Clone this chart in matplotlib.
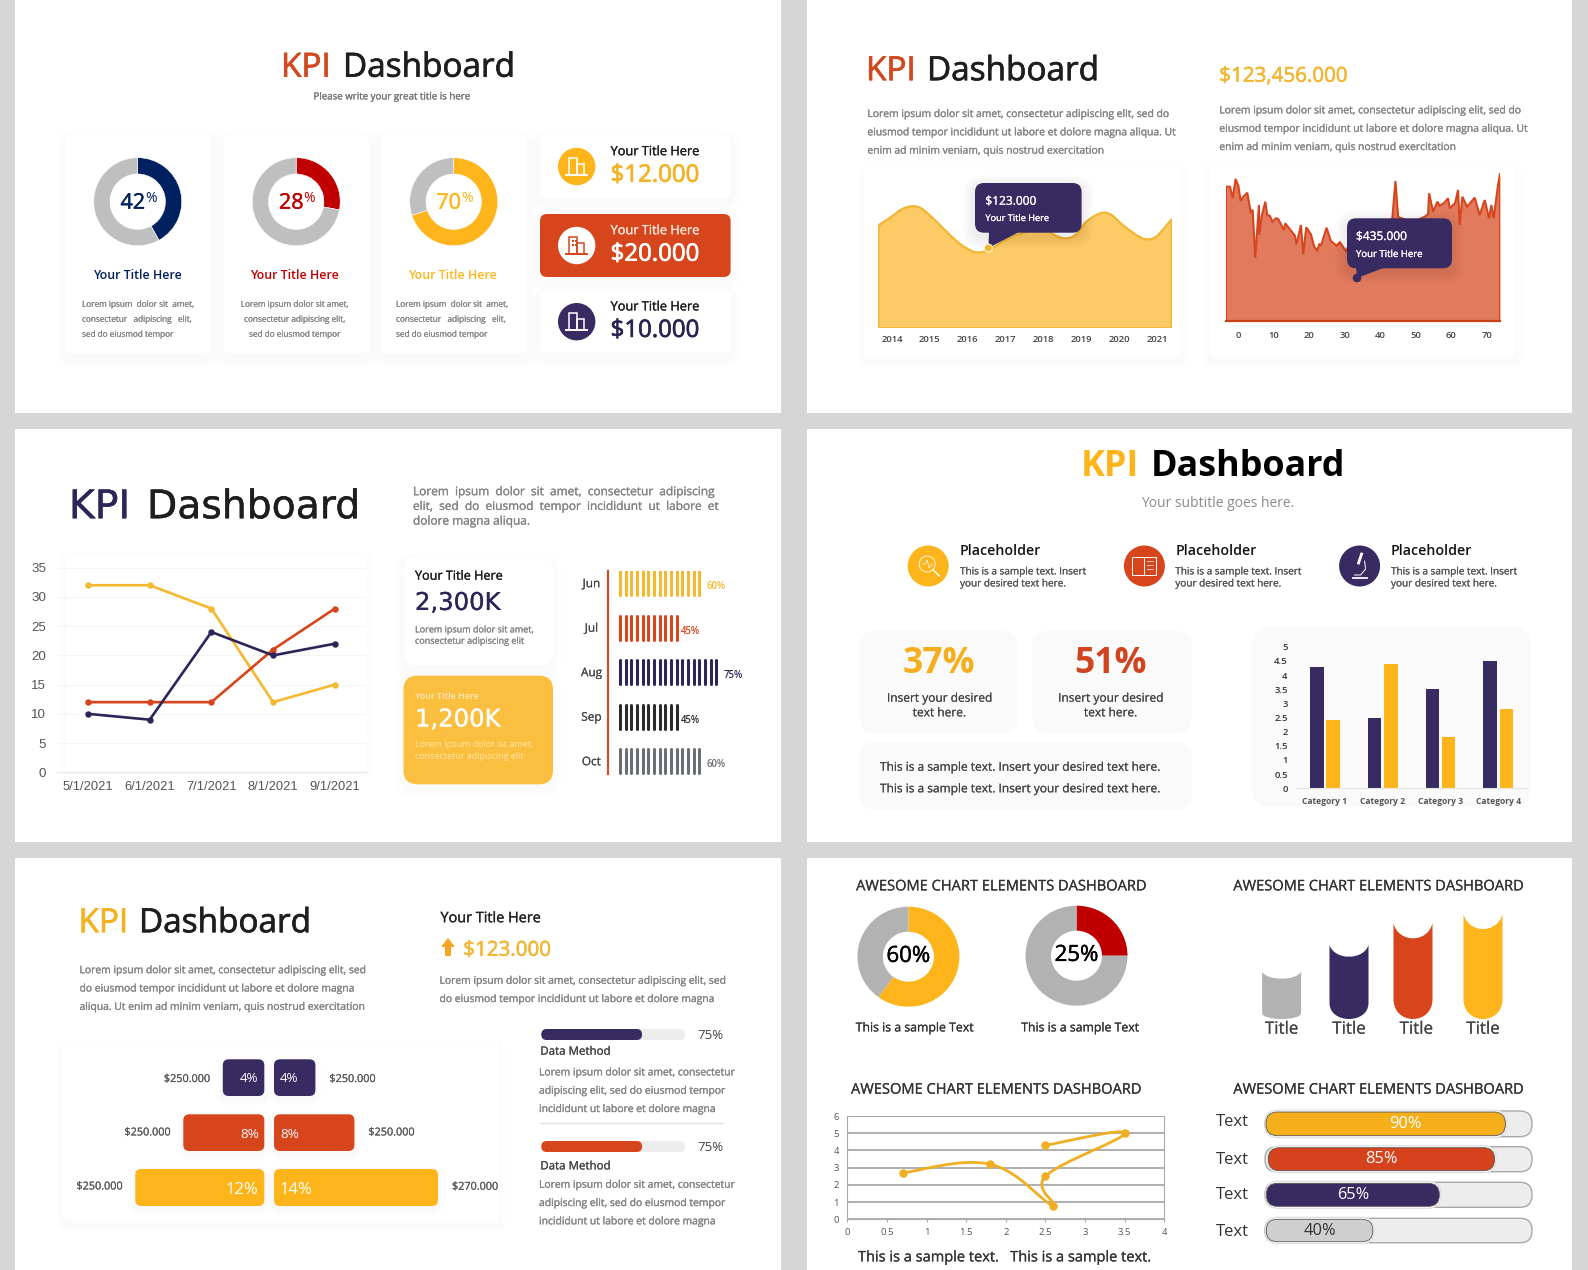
import matplotlib
matplotlib.use("Agg")
import matplotlib.pyplot as plt
import matplotlib.patheffects as pe
from matplotlib.patches import FancyBboxPatch, Circle, Polygon, PathPatch, Rectangle
from matplotlib.path import Path

W, H = 1588, 1270

YELLOW = "#FDB51B"
ORANGE = "#D6451C"
NAVY = "#372B62"
GRAY = "#BFBFBF"
TXT = "#848484"

# ---- data ----
donut_vals = [42, 28, 70]
donut_cols = ["#002060", "#C00000", YELLOW]
kpi_values = ["$12.000", "$20.000", "$10.000"]

area_years = [2013.64, 2013.95, 2014.26, 2014.52, 2014.74, 2015.0, 2015.35, 2015.71, 2015.97, 2016.23,
              2016.54, 2016.94, 2017.33, 2017.99, 2018.30, 2018.56, 2018.83, 2019.14, 2019.50, 2019.76,
              2020.10, 2020.46, 2020.72, 2020.98, 2021.38]
area_vals = [103, 110.6, 119, 122, 120.6, 113, 100, 87, 80, 76, 78, 87, 94, 99, 93, 90, 93, 107, 115, 114,
             103, 93, 89, 92, 109]
area_ticks = [2014, 2015, 2016, 2017, 2018, 2019, 2020, 2021]

spike_x = [-3.55, -2.42, -1.67, -0.83, -0.08, 0.58, 1.33, 2.46, 3.40, 3.97, 4.72, 5.75, 5.85, 6.50, 7.54, 8.10,
           8.85, 9.51, 10.54, 11.20, 12.80, 13.18, 15.90, 16.37, 17.59, 18.25, 19.10, 20.41, 21.35, 22.20,
           22.76, 23.32, 24.83, 26.05, 27.65, 28.59, 30.28, 30.94, 33, 36, 39, 42, 43.44, 44.28, 45.03, 45.5,
           49.2, 52.55, 53.49, 53.77, 54.90, 56.12, 56.78, 57.91, 59.13, 59.60, 61.10, 61.95, 62.42, 63.17,
           64.49, 66.65, 68.06, 69.47, 70.69, 71.35, 72.0, 73.23, 73.79]
spike_y = [134.3, 134.3, 122.7, 142, 135.3, 120, 124.3, 128.3, 109.3, 111, 63.3, 116, 86, 104.3, 119.3, 106,
           105, 99.3, 102.7, 102, 91, 97.7, 85.3, 76.7, 96, 66.7, 93.7, 86.7, 74.3, 70.7,
           76.7, 76, 93.3, 80, 75.3, 78.7, 70, 74.3, 66, 72, 80, 70, 104.3, 140, 104.3, 103.3,
           99, 104.3, 106.7, 127.7, 109.3, 119.3, 115.3, 117.7, 122.7, 112.7, 117.7, 131, 96, 124.3,
           114.3, 123.3, 106, 121, 102.7, 116, 102.7, 136, 146.7]
spike_ticks = [0, 10, 20, 30, 40, 50, 60, 70]

line_dates = ["5/1/2021", "6/1/2021", "7/1/2021", "8/1/2021", "9/1/2021"]
line_yellow = [32, 32, 28, 12, 15]
line_orange = [12, 12, 12, 21, 28]
line_navy = [10, 9, 24, 20, 22]

stripe_months = ["Jun", "Jul", "Aug", "Sep", "Oct"]
stripe_counts = [15, 11, 18, 11, 15]
stripe_pct = ["60%", "45%", "75%", "45%", "60%"]
stripe_cols = ["#F4B92F", "#D6451C", "#2D2557", "#2B2B2B", "#6B6E73"]

cat_names = ["Category 1", "Category 2", "Category 3", "Category 4"]
cat_navy = [4.3, 2.5, 3.5, 4.5]
cat_yellow = [2.4, 4.4, 1.8, 2.8]

funnel_left = [4.15, 8.1, 12.9]
funnel_right = [4.14, 8.04, 16.4]
funnel_left_lab = ["4%", "8%", "12%"]
funnel_right_lab = ["4%", "8%", "14%"]
funnel_left_amt = ["$250.000", "$250.000", "$250.000"]
funnel_right_amt = ["$250.000", "$250.000", "$270.000"]

method_pct = [75, 75]

cyl_vals = [47.3, 74, 95.7, 105]
cyl_cols = ["#B2B2B2", NAVY, ORANGE, YELLOW]

scatter_x = [0.7, 1.8, 2.6, 2.5, 3.5, 2.5]
scatter_y = [2.7, 3.2, 0.8, 2.5, 5, 4.3]

pill_vals = [90, 85, 65, 40]
pill_cols = ["#F4AF1B", "#D6421B", NAVY, "#CFCFCF"]

LOREM1 = "Lorem ipsum dolor sit amet, consectetur adipiscing elit, sed do"
LOREM2 = "eiusmod tempor incididunt ut labore et dolore magna aliqua. Ut"
LOREM3 = "enim ad minim veniam, quis nostrud exercitation"

plt.rcParams["font.family"] = ["Open Sans", "DejaVu Sans"]

fig = plt.figure(figsize=(W / 100, H / 100), dpi=100, facecolor="#D6D6D6")


def px_axes(zorder):
    a = fig.add_axes([0, 0, 1, 1], zorder=zorder)
    a.set_xlim(0, W)
    a.set_ylim(H, 0)
    a.axis("off")
    a.patch.set_alpha(0)
    return a


bg = px_axes(0)
fg = px_axes(10)


def sub_ax(x0, y0, x1, y1):
    a = fig.add_axes([x0 / W, 1 - y1 / H, (x1 - x0) / W, (y1 - y0) / H], zorder=5)
    a.patch.set_alpha(0)
    return a


def T(x, y, s, size, color="#222222", ha="left", weight="normal", ax=None, stroke=0, **kw):
    t = (ax or bg).text(x, y + 1.2, s, fontsize=size, color=color, ha=ha, va="center", fontweight=weight, **kw)
    if stroke:
        t.set_path_effects([pe.withStroke(linewidth=stroke, foreground=color)])
    return t


def rbox(x0, y0, x1, y1, r, color, ax=None, **kw):
    p = FancyBboxPatch((x0 + r, y0 + r), x1 - x0 - 2 * r, y1 - y0 - 2 * r,
                       boxstyle="round,pad=%f,rounding_size=%f" % (r, r),
                       facecolor=color, edgecolor="none", **kw)
    (ax or bg).add_patch(p)
    return p


def card(x0, y0, x1, y1, r=6, color="white", spread=10, dy=5, a=0.004, ax=None):
    for i in range(spread, 0, -2):
        rbox(x0 - i, y0 - i + dy, x1 + i, y1 + i + dy, r + i, "black", ax=ax, alpha=a)
    rbox(x0, y0, x1, y1, r, color, ax=ax)


def smooth(xs, ys, k=6.0):
    # same idea as a smoothed office line: bezier through the points
    verts = [(xs[0], ys[0])]
    codes = [Path.MOVETO]
    n = len(xs)
    for i in range(n - 1):
        a, b = max(i - 1, 0), min(i + 2, n - 1)
        verts.append((xs[i] + (xs[i + 1] - xs[a]) / k, ys[i] + (ys[i + 1] - ys[a]) / k))
        verts.append((xs[i + 1] - (xs[b] - xs[i]) / k, ys[i + 1] - (ys[b] - ys[i]) / k))
        verts.append((xs[i + 1], ys[i + 1]))
        codes += [Path.CURVE4] * 3
    return verts, codes


def title(xk, xd, y, kpi_col, size=24, dash_col="#1E1E1E"):
    T(xk, y, "KPI", size, kpi_col, stroke=0.5)
    T(xd, y, "Dashboard", size, dash_col, stroke=0.5)


def building(cx, cy, color, ax=fg, kind=0):
    lw = 1.1
    ax.add_patch(Rectangle((cx - 8, cy - 9), 8, 17, fill=False, ec=color, lw=lw))
    ax.add_patch(Rectangle((cx, cy - 3), 7, 11, fill=False, ec=color, lw=lw))
    ax.plot([cx - 11, cx + 10], [cy + 8, cy + 8], color=color, lw=lw + 0.3)
    if kind == 1:
        for dx in (-5, -2):
            for dy in (-6, -2):
                ax.add_patch(Rectangle((cx + dx, cy + dy), 1.8, 2, color=color, lw=0))


def place_icon(i, cx, cy):
    if i == 0:
        bg.add_patch(Circle((cx - 1, cy - 2), 8, fill=False, ec="white", lw=0.6))
        bg.plot([cx + 5, cx + 11], [cy + 4, cy + 10], color="white", lw=1)
        bg.plot([cx - 6, cx - 3, cx - 1, cx + 1, cx + 4], [cy - 2, cy - 2, cy - 6, cy + 2, cy - 2], color="white", lw=0.5)
    elif i == 1:
        bg.add_patch(Rectangle((cx - 12, cy - 9), 24, 18, fill=False, ec="white", lw=0.7))
        bg.plot([cx, cx], [cy - 9, cy + 9], color="white", lw=0.7)
        for dy in (-5, -1, 3):
            bg.plot([cx + 3, cx + 9], [cy + dy, cy + dy], color="white", lw=0.5)
    else:
        bg.plot([cx - 7, cx + 7], [cy + 12, cy + 12], color="white", lw=1.3)
        bg.plot([cx + 2, cx - 1], [cy - 12, cy - 3], color="white", lw=2)
        bg.plot([cx + 5, cx + 6, cx + 1, cx - 5], [cy - 5, cy + 3, cy + 9, cy + 9], color="white", lw=0.7)


# panels
for x0, x1 in [(15.2, 780.8), (806.7, 1571.7)]:
    for y0, y1 in [(0, 412.7), (429, 841.7), (858.3, 1270)]:
        bg.add_patch(Rectangle((x0, y0), x1 - x0, y1 - y0, color="white", lw=0))

# ---- panel 1 ----
title(281, 343, 67, "#D0491F")
T(392.4, 95.7, "Please write your great title is here", 7, "#777777", ha="center", stroke=0.2)
card_x = [(66, 210), (224, 369), (381, 527)]
donut_cx = [137.7, 296.2, 453.7]
title_cx = [137.7, 294.7, 452]
for i in range(3):
    card(card_x[i][0], 135, card_x[i][1], 353, r=5)
    a = sub_ax(donut_cx[i] - 44, 201.7 - 44, donut_cx[i] + 44, 201.7 + 44)
    a.pie([donut_vals[i], 100 - donut_vals[i]], colors=[donut_cols[i], GRAY], startangle=90, counterclock=False,
          radius=1, wedgeprops=dict(width=0.37, edgecolor="white", linewidth=0.4))
    a.set_xlim(-1, 1)
    a.set_ylim(-1, 1)
    T(donut_cx[i] - 5, 202, str(donut_vals[i]), 15.5, donut_cols[i], ha="center", ax=fg, stroke=0.3)
    T(donut_cx[i] + 7.5, 197.5, "%", 10, donut_cols[i], ha="left", ax=fg)
    T(title_cx[i], 274, "Your Title Here", 8.9, donut_cols[i], ha="center", weight="semibold")
T(82, 304, "Lorem ipsum  dolor sit  amet,", 5.9, TXT, stroke=0.15)
T(82, 319, "consectetur   adipiscing   elit,", 5.9, TXT, stroke=0.15)
T(82, 334, "sed do eiusmod tempor", 5.9, TXT, stroke=0.15)
T(294.7, 304, "Lorem ipsum dolor sit amet,", 5.9, TXT, ha="center", stroke=0.15)
T(294.7, 319, "consectetur adipiscing elit,", 5.9, TXT, ha="center", stroke=0.15)
T(294.7, 334, "sed do eiusmod tempor", 5.9, TXT, ha="center", stroke=0.15)
T(396, 304, "Lorem ipsum  dolor sit  amet,", 5.9, TXT, stroke=0.15)
T(396, 319, "consectetur   adipiscing   elit,", 5.9, TXT, stroke=0.15)
T(396, 334, "sed do eiusmod tempor", 5.9, TXT, stroke=0.15)

kpi_y = [(135, 198), (214, 277), (290.7, 352.7)]
kpi_card = ["white", ORANGE, "white"]
kpi_circ = [YELLOW, "white", NAVY]
kpi_ic = ["white", ORANGE, "white"]
kpi_col = ["#F4B223", "white", "#2A2352"]
kpi_t = ["#1E1E1E", "#FBE3D6", "#1E1E1E"]
for i in range(3):
    y0, y1 = kpi_y[i]
    card(540, y0, 730.6, y1, r=7, color=kpi_card[i])
    cy = (y0 + y1) / 2
    bg.add_patch(Circle((576.7, cy), 18.7, color=kpi_circ[i], lw=0))
    building(576.7, cy, kpi_ic[i], ax=bg, kind=i % 2)
    T(610.6, cy - 16, "Your Title Here", 9.2, kpi_t[i], stroke=0.2)
    T(610.6, cy + 8, kpi_values[i], 17.3, kpi_col[i], stroke=0.5)

# ---- panel 2 ----
title(866, 927, 70.5, "#D0491F")
T(1219.3, 75, "$123,456.000", 14.8, "#F2B632", stroke=0.4)
for j, s in enumerate([LOREM1, LOREM2, LOREM3]):
    T(867.4, 113.3 + 18.3 * j, s, 7.45, TXT, stroke=0.2)
    T(1219.3, 109.7 + 18.3 * j, s, 7.45, TXT, stroke=0.2)
card(864, 167, 1181, 357, r=5, spread=8)
card(1209, 165, 1515.5, 357, r=5, spread=8)

a = sub_ax(878.3, 170, 1171.7, 328.3)
verts, codes = smooth(area_years, area_vals)
outline = verts + [(area_years[-1], 0), (area_years[0], 0), (area_years[0], area_vals[0])]
a.add_patch(PathPatch(Path(outline, codes + [Path.LINETO] * 3), facecolor="#FDCB66", edgecolor="#F2B632", lw=1.6))
a.set_xlim(area_years[0], area_years[-1])
a.set_ylim(0, 158.3)
a.set_xticks(area_ticks)
a.set_xticklabels(area_ticks, fontsize=6.8, color="#444444", fontweight="semibold")
a.set_yticks([])
a.tick_params(axis="x", length=0, pad=5)
for s in a.spines.values():
    s.set_visible(False)

a = sub_ax(1226, 165, 1500, 321)
a.fill_between(spike_x, spike_y, 0, color="#E27B5E", lw=0)
a.plot(spike_x, spike_y, color="#D6451C", lw=1.5, solid_joinstyle="miter")
a.plot([spike_x[0], spike_x[0]], [0, spike_y[0]], color="#D6451C", lw=1.5)
a.plot([spike_x[-1], spike_x[-1]], [0, spike_y[-1]], color="#D6451C", lw=1.5)
a.plot([spike_x[0], spike_x[-1]], [0, 0], color="#C8401A", lw=1.6, clip_on=False)
a.set_xlim(spike_x[0], spike_x[-1])
a.set_ylim(0, 156)
a.set_xticks(spike_ticks)
a.set_xticklabels(spike_ticks, fontsize=6.8, color="#444444", fontweight="semibold")
a.set_yticks([])
a.tick_params(axis="x", length=0, pad=7)
for s in a.spines.values():
    s.set_visible(False)

card(975, 183, 1081.6, 232.7, r=9, color=NAVY, spread=12, dy=4, a=0.012, ax=fg)
fg.add_patch(Polygon([(989, 232), (988.4, 248), (1019, 232)], color=NAVY, lw=0))
fg.add_patch(Circle((988.4, 248), 4, facecolor="#F2B632", edgecolor="#FFF3D0", lw=0.8))
T(985.4, 200, "$123.000", 8.6, "white", ax=fg, stroke=0.15)
T(985.4, 217.3, "Your Title Here", 6.6, "white", ax=fg, stroke=0.15)
card(1347, 218.3, 1452, 268.3, r=9, color=NAVY, spread=12, dy=4, a=0.012, ax=fg)
fg.add_patch(Polygon([(1356, 267), (1357, 278), (1386, 267)], color=NAVY, lw=0))
fg.add_patch(Circle((1357, 278), 4.3, color=NAVY, lw=0))
T(1356, 235.3, "$435.000", 8.6, "white", ax=fg, stroke=0.15)
T(1356, 253.3, "Your Title Here", 6.9, "white", ax=fg, stroke=0.15)

# ---- panel 3 ----
T(69, 506, "KPI", 28.3, "#2D2557", family="DejaVu Sans", stroke=0.3)
T(147, 506, "Dashboard", 28.3, "#1E1E1E", family="DejaVu Sans", stroke=0.3)
for j, s in enumerate(["Lorem  ipsum  dolor  sit  amet,  consectetur  adipiscing",
                       "elit,  sed  do  eiusmod  tempor  incididunt  ut  labore  et",
                       "dolore magna aliqua."]):
    T(413, 490.5 + 14.7 * j, s, 8.55, TXT, stroke=0.2)

card(66, 556, 366, 772, r=2, spread=6, dy=0)
a = sub_ax(57.2, 567.7, 365.6, 772.3)
xs = range(len(line_dates))
for vals, col in [(line_yellow, "#F4B92F"), (line_orange, "#D6451C"), (line_navy, "#2D2557")]:
    a.plot(xs, vals, color=col, lw=1.9, marker="o", ms=3.6, clip_on=False)
a.set_xlim(-0.5, 4.5)
a.set_ylim(0, 35)
a.set_yticks(range(0, 36, 5))
a.set_xticks(list(xs))
a.set_xticklabels(line_dates, fontsize=9.3, color="#555555", family="Liberation Sans")
a.set_yticklabels(range(0, 36, 5), fontsize=9.6, color="#555555", family="Liberation Sans")
a.grid(axis="y", color="#F5F5F5", lw=0.8)
a.tick_params(axis="x", length=0, pad=6)
a.tick_params(axis="y", length=0, pad=8)
for k, s in a.spines.items():
    s.set_visible(k == "bottom")
a.spines["bottom"].set_color("#E8E8E8")

card(403.5, 556.7, 553, 665.7, r=14)
card(403.5, 675.7, 553, 784.3, r=14, color="#FBBF40")
T(415, 575, "Your Title Here", 9.1, "#1E1E1E", stroke=0.2)
T(415, 601.7, "2,300K", 17.5, "#2D2557", family="DejaVu Sans", stroke=0.2)
T(415, 628.7, "Lorem ipsum dolor sit amet,", 6.5, TXT, stroke=0.15)
T(415, 640, "consectetur adipiscing elit", 6.5, TXT, stroke=0.15)
T(415, 695, "Your Title Here", 6.4, "#FDE9BE", weight="semibold")
T(415, 718.3, "1,200K", 17.5, "white", family="DejaVu Sans", stroke=0.2)
T(415, 743.7, "Lorem ipsum dolor sit amet,", 6.5, "#FDE6A6")
T(415, 755, "consectetur adipiscing elit", 6.5, "#FDE6A6")

bg.plot([608, 608], [570.7, 774], color="#C8502B", lw=1.6)
a = sub_ax(617, 570.7, 735, 774.7)
a.axis("off")
a.set_xlim(-0.53, 20.28)
a.set_ylim(4.30, -0.28)
for r, n in enumerate(stripe_counts):
    a.vlines(range(n), r - 0.27, r + 0.27, color=stripe_cols[r], lw=2.2, capstyle="round")
    off = {11: 0.75, 15: 1.2, 18: 1.35}[n]
    a.text(n - 1 + off, r + 0.08, stripe_pct[r], fontsize=6.9, color=stripe_cols[r], va="center", fontweight="semibold")
    T(591.4, 582.5 + 44.5 * r, stripe_months[r], 8.5, "#444444", ha="center", stroke=0.1)

# ---- panel 4 ----
T(1081, 466, "KPI", 25.8, YELLOW, weight="bold")
T(1151, 466, "Dashboard", 25.8, "black", weight="bold")
T(1217.3, 502.3, "Your subtitle goes here.", 10, "#8A8A8A", ha="center")
place_cx = [928.2, 1144.4, 1359.6]
place_col = [YELLOW, ORANGE, NAVY]
place_x = [960, 1175.3, 1391]
for i in range(3):
    bg.add_patch(Circle((place_cx[i], 566), 20.5, color=place_col[i], lw=0))
    place_icon(i, place_cx[i], 566)
    T(place_x[i], 550, "Placeholder", 10.2, "#111111", weight="semibold")
    T(place_x[i], 570.7, "This is a sample text. Insert", 7.2, "#555555", stroke=0.15)
    T(place_x[i], 582.7, "your desired text here.", 7.2, "#555555", stroke=0.15)

for x0, x1 in [(860, 1018), (1032, 1191.5)]:
    rbox(x0, 631, x1, 733.3, 16, "#FAFAFA")
rbox(860, 741.7, 1191.5, 810, 16, "#FAFAFA")
rbox(1252, 626.7, 1530.7, 806.7, 18, "#FAFAFA")
T(939.3, 663, "37%", 25.5, "#F5AF1E", ha="center", weight="bold")
T(1110.5, 663, "51%", 25.5, "#D0451F", ha="center", weight="bold")
for cx in (939.3, 1110.5):
    T(cx, 697, "Insert your desired", 8.6, "#444444", ha="center", stroke=0.1)
    T(cx, 711.6, "text here.", 8.6, "#444444", ha="center", stroke=0.1)
T(880, 766, "This is a sample text. Insert your desired text here.", 8.6, "#444444", stroke=0.1)
T(880, 787.6, "This is a sample text. Insert your desired text here.", 8.6, "#444444", stroke=0.1)

a = sub_ax(1296, 646.7, 1527.2, 788.3)
xs = range(len(cat_names))
a.bar([x - 0.14 for x in xs], cat_navy, width=0.235, color=NAVY)
a.bar([x + 0.14 for x in xs], cat_yellow, width=0.235, color=YELLOW)
a.set_xlim(-0.5, 3.5)
a.set_ylim(0, 5)
a.set_xticks(list(xs))
a.set_xticklabels(cat_names, fontsize=6.1, color="#555555", fontweight="bold")
a.set_yticks([0, 0.5, 1, 1.5, 2, 2.5, 3, 3.5, 4, 4.5, 5])
a.set_yticklabels(["0", "0.5", "1", "1.5", "2", "2.5", "3", "3.5", "4", "4.5", "5"],
                  fontsize=6.8, color="#333333", fontweight="semibold")
a.tick_params(axis="both", length=0, pad=6)
for k, s in a.spines.items():
    s.set_visible(k == "bottom")
a.spines["bottom"].set_color("#E4E4E4")

# ---- panel 5 ----
title(78.5, 139, 922.5, "#F4B223")
for j, s in enumerate(["Lorem ipsum dolor sit amet, consectetur adipiscing elit, sed",
                       "do eiusmod tempor incididunt ut labore et dolore magna",
                       "aliqua. Ut enim ad minim veniam, quis nostrud exercitation"]):
    T(79.5, 969.5 + 18.3 * j, s, 7.45, TXT, stroke=0.2)
T(440.5, 917.5, "Your Title Here", 10.4, "#222222", stroke=0.2)
fg.add_patch(Polygon([(448, 938), (455, 947), (451, 947), (451, 956), (445, 956), (445, 947), (441, 947)],
                     color="#F5A623", lw=0))
T(463.3, 949, "$123.000", 14.8, "#F2B632", stroke=0.4)
T(439.5, 980, "Lorem ipsum dolor sit amet, consectetur adipiscing elit, sed", 7.45, TXT, stroke=0.2)
T(439.5, 998.3, "do eiusmod tempor incididunt ut labore et dolore magna", 7.45, TXT, stroke=0.2)

card(63, 1041.7, 499, 1220, r=4, spread=8)
funnel_y = [(1059.3, 1096), (1114.3, 1151), (1169, 1206)]
funnel_cols = [NAVY, ORANGE, YELLOW]
for i, (y0, y1) in enumerate(funnel_y):
    xl = 264.3 - funnel_left[i] * 10
    xr = 274 + funnel_right[i] * 10
    for x0, x1 in [(xl, 264.3), (274, xr)]:
        card(x0, y0, x1, y1, r=6, color=funnel_cols[i], spread=6, dy=3, a=0.008)
    sz = 9.6 if i < 2 else 12
    T(258.7, (y0 + y1) / 2 + i * 0.5, funnel_left_lab[i], sz, "white", ha="right")
    T(280, (y0 + y1) / 2 + i * 0.5, funnel_right_lab[i], sz, "white")
    T(xl - 13, [1078.3, 1131.7, 1185.7][i], funnel_left_amt[i], 7.8, "#555555", ha="right", stroke=0.1)
    T(xr + 14, [1078.3, 1131.7, 1186][i], funnel_right_amt[i], 7.8, "#555555", stroke=0.1)

method_y = [(1029, 1040), (1141, 1152)]
method_col = [NAVY, ORANGE]
method_label_y = [1050, 1164.7]
method_text_y = [1071.7, 1184]
for i in range(2):
    y0, y1 = method_y[i]
    rbox(541.3, y0, 685, y1, 5.4, "#EDEDED")
    rbox(541.3, y0, 541.3 + method_pct[i] * 1.343, y1, 5.4, method_col[i])
    T(711, (y0 + y1) / 2 - 0.2, "%d%%" % method_pct[i], 9.5, "#444444", ha="center")
    T(540.3, method_label_y[i], "Data Method", 8.3, "#444444", stroke=0.15)
    for j, s in enumerate(["Lorem ipsum dolor sit amet, consectetur", "adipiscing elit, sed do eiusmod tempor",
                           "incididunt ut labore et dolore magna"]):
        T(539, method_text_y[i] + 18.3 * j, s, 7.45, TXT, stroke=0.2)
bg.plot([541, 721.5], [1122.7, 1122.7], color="#E2E2E2", lw=1)

# ---- panel 6 ----
for cx, y in [(1000.6, 885.7), (1377.8, 885.7), (995.5, 1089), (1377.8, 1089)]:
    T(cx, y, "AWESOME CHART ELEMENTS DASHBOARD", 10.55, "#333333", ha="center", stroke=0.15)

for cx, cy, val, col, cap_cx in [(908.4, 956.7, 60, YELLOW, 914.5), (1076.5, 955.7, 25, "#C00000", 1080)]:
    a = sub_ax(cx - 51, cy - 50, cx + 51, cy + 50)
    a.pie([val, 100 - val], colors=[col, "#B2B2B2"], startangle=90, counterclock=False, radius=1,
          wedgeprops=dict(width=0.5, edgecolor="none"))
    a.set_xlim(-1, 1)
    a.set_ylim(-1, 1)
    a.set_aspect("auto")
    T(cx, cy - 1.5, "%d%%" % val, 16, "black", ha="center", ax=fg, stroke=0.3)
    T(cap_cx, 1026.7, "This is a sample Text", 8.85, "#333333", ha="center", stroke=0.15)

cyl_cx = [1281.6, 1349, 1413, 1483]
cyl_lab = [1281.6, 1349, 1416.3, 1483]
cyl_dip = [7, 11.7, 15, 15]
cyl_round = [6, 16, 20, 20]
for i, v in enumerate(cyl_vals):
    cx = cyl_cx[i]
    x0, x1 = cx - 19.5, cx + 19.5
    bot = 1019
    top = bot - v
    d = cyl_dip[i] * 4 / 3
    rd = cyl_round[i] * 4 / 3
    p = Path([(x0, top), (x0 + 5, top + d), (x1 - 5, top + d), (x1, top),
              (x1, bot - cyl_round[i]), (x1, bot - cyl_round[i] + rd), (x0, bot - cyl_round[i] + rd),
              (x0, bot - cyl_round[i]), (x0, top)],
             [Path.MOVETO, Path.CURVE4, Path.CURVE4, Path.CURVE4, Path.LINETO, Path.CURVE4, Path.CURVE4, Path.CURVE4,
              Path.CLOSEPOLY])
    bg.add_patch(PathPatch(p, facecolor=cyl_cols[i], edgecolor="none"))
    T(cyl_lab[i], 1028.5, "Title", 12.2, "#444444", ha="center", ax=fg, stroke=0.1)

a = sub_ax(847.3, 1116, 1164.3, 1219.3)
verts, codes = smooth(scatter_x, scatter_y, k=5.0)
a.add_patch(PathPatch(Path(verts, codes), facecolor="none", edgecolor="#F0AE22", lw=2))
a.scatter(scatter_x, scatter_y, s=26, color="#F0AE22", zorder=3, clip_on=False)
a.set_xlim(0, 4)
a.set_ylim(0, 6)
a.set_xticks([0, 0.5, 1, 1.5, 2, 2.5, 3, 3.5, 4])
a.set_xticklabels(["0", "0.5", "1", "1.5", "2", "2.5", "3", "3.5", "4"], fontsize=6.8, color="#555555")
a.set_yticks(range(7))
a.set_yticklabels(range(7), fontsize=6.8, color="#555555")
a.grid(axis="y", color="#9A9A9A", lw=1.1)
a.set_axisbelow(True)
a.tick_params(axis="both", length=2.5, color="#AAAAAA", pad=4)
a.tick_params(axis="y", length=0, pad=6)
for s in a.spines.values():
    s.set_color("#AAAAAA")
T(1005, 1256.7, "This is a sample text.   This is a sample text.", 10.5, "#333333", ha="center", stroke=0.15)

pill_y = [(1111, 1136.7), (1146.7, 1171.7), (1182.3, 1207.3), (1218.3, 1242.7)]
pill_lab_y = [1120.3, 1159.3, 1194, 1231]
pill_txt = ["white", "white", "white", "#333333"]
pill_cx = [1405.6, 1381.3, 1353, 1319.6]
pill_off = [1266, 1268.4, 1266.4, 1266.4]
for i, v in enumerate(pill_vals):
    y0, y1 = pill_y[i]
    r = (y1 - y0) / 2 - 0.5
    t = rbox(1265, y0, 1532, y1, r, "#EDEDED")
    t.set_edgecolor("#A8A8A8")
    t.set_linewidth(1)
    x1 = pill_off[i] + v * 2.66
    h = rbox(pill_off[i] - 1, y0 - 1, x1 + 1.5, y1 + 1, r + 1, "white")
    h.set_edgecolor("#DDDDDD")
    h.set_linewidth(0.8)
    f = rbox(pill_off[i], y0 + 1, x1, y1 - 1, r - 1, pill_cols[i])
    f.set_edgecolor("#555555")
    f.set_linewidth(0.6)
    T(pill_cx[i], (y0 + y1) / 2 - 1, "%d%%" % v, 11.8, pill_txt[i], ha="center")
    T(1215.8, pill_lab_y[i], "Text", 12, "#333333")

fig.savefig("out.png", dpi=100, facecolor=fig.get_facecolor())
